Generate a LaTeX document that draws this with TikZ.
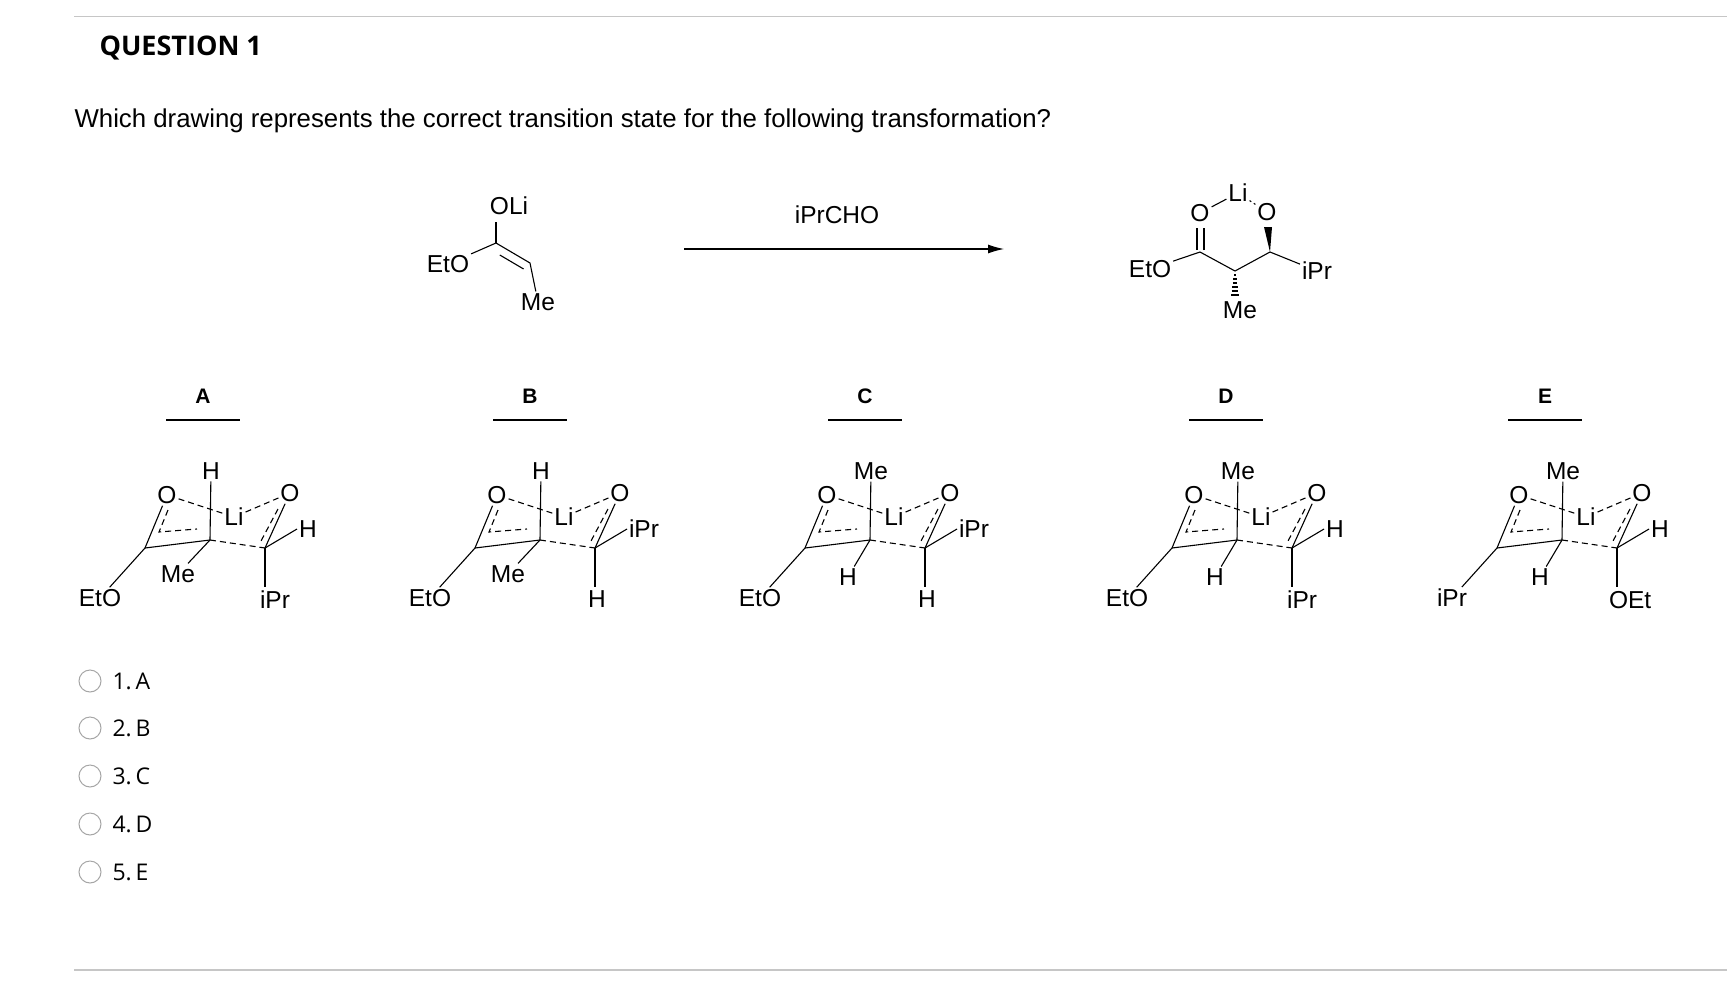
\documentclass[tikz,border=0pt]{standalone}
\usepackage{fontspec}
\usetikzlibrary{calc,arrows.meta}
\setmainfont{Liberation Sans}
\newfontfamily\osans{Open Sans}
\begin{document}
\begin{tikzpicture}[x=1pt,y=-1pt,line width=1.1pt,
  lab/.style={font=\fontsize{24.5}{24.5}\selectfont,inner sep=1.5pt},
  bond/.style={line width=1.1pt},
  dbond/.style={line width=1.1pt,dash pattern=on 6pt off 4pt},
  rule/.style={draw=gray!45,line width=1.2pt},
  opt/.style={font=\osans\fontsize{23}{23}\selectfont,anchor=west,inner sep=0pt},
  radio/.style={draw=gray!70,line width=1pt,circle,minimum size=22pt,inner sep=0pt}]
\useasboundingbox (0,0) rectangle (1727,996);
\draw[rule] (74,16.5) -- (1727,16.5);
\draw[rule] (74,970) -- (1727,970);
\node[anchor=west,inner sep=0pt,font=\osans\bfseries\fontsize{27}{27}\selectfont] (title) at (99,48) {QUESTION 1};
\node[anchor=west,inner sep=0pt,font=\fontsize{25.8}{25.8}\selectfont] (q) at (74,121) {Which drawing represents the correct transition state for the following transformation?};
% reactant
\node[lab] (rOLi) at (509,206) {OLi};
\node[lab] (rEtO) at (448,264) {EtO};
\node[lab] (rMe) at (538,302) {Me};
\coordinate (rC1) at (496,243);
\coordinate (rC2) at (530,263);
\draw[bond] (rC1) -- (496,222);
\draw[bond] (rEtO) -- (rC1) -- (rC2) -- (rMe);
\draw[bond] ($(rC1)!0.2!(rC2)+(-3,8)$) -- ($(rC1)!0.9!(rC2)+(-3,8)$);
% arrow
\node[lab] (reag) at (837,215) {iPrCHO};
\coordinate (a1) at (684,249);
\coordinate (a2) at (1004,249);
\draw[line width=1.1pt,-{Latex[length=16pt,width=9pt]}] (a1) -- (a2);
% product
\node[lab] (pO1) at (1200,213) {O};
\node[lab] (pLi) at (1238,193) {Li};
\node[lab] (pO2) at (1267,212) {O};
\node[lab] (pEtO) at (1150,269) {EtO};
\node[lab] (piPr) at (1317,271) {iPr};
\node[lab] (pMe) at (1240,310) {Me};
\coordinate (pC1) at (1200,252);
\coordinate (pC2) at (1235,271);
\coordinate (pC3) at (1270,252);
\draw[bond] (pEtO) -- (pC1) -- (pC2) -- (pC3) -- (piPr);
\draw[bond] (1197,250) -- (1197,228);
\draw[bond] (1204,250) -- (1204,228);
\draw[bond] (pO1) -- (pLi);
\draw[bond,dash pattern=on 2pt off 3pt] (pLi) -- (pO2);
\fill (pC3) -- (1264,227) -- (1272,227) -- cycle;
\foreach \k in {0,...,5}{\draw[line width=1.1pt] ($(pC2)+(-1-0.6*\k,4+4*\k)$) -- ($(pC2)+(1+0.6*\k,4+4*\k)$);}
% headings
\foreach \n/\x in {A/203,B/530,C/865,D/1226,E/1545}{
  \node[font=\bfseries\fontsize{21}{21}\selectfont,inner sep=0pt] (h\n) at (\x,396) {\n};
  \draw[line width=1.2pt] (\x-37,420) -- (\x+37,420);
}
% transition states
\newcommand\TSdraw[7]{%
\begin{scope}[xshift=#2pt]
\node[lab] (#1O1) at (167,495) {O};
\node[lab] (#1Li) at (234,517) {Li};
\node[lab] (#1O2) at (290,493) {O};
\coordinate (#1Ce) at (145,548);
\coordinate (#1Ca) at (210,540);
\coordinate (#1Cc) at (265,548);
\node[lab] (#1top) at (211,471) {#3};
\node[lab] (#1ll) at #4;
\node[lab,anchor=west] (#1ur) at (297,529) {#5};
\node[lab,anchor=north west] (#1bt) at (#7) {#6};
\draw[bond] (#1Ce) -- (#1O1);
\draw[bond] (#1Ce) -- (#1Ca);
\draw[bond] (#1Ca) -- (#1top);
\draw[bond] (#1Ca) -- (#1ll);
\draw[bond] (#1O2) -- (#1Cc);
\draw[bond] (#1Cc) -- (#1ur.west);
\draw[bond] (#1Cc) -- (265,587);
\draw[dbond] (168,510) -- (159,532) -- (197,529);
\draw[dbond] (278,509) -- (261,541);
\draw[dbond] (#1Ca) -- (#1Cc);
\draw[dbond] (#1O1) -- (#1Li);
\draw[dbond] (#1Li) -- (#1O2);
\end{scope}}
\newcommand\LeftSub[3]{\begin{scope}[xshift=#2pt]\node[lab] (#1lf) at (100,598) {#3};\draw[bond] (145,548) -- (#1lf);\end{scope}}
\TSdraw{A}{0}{H}{(178,574) {Me}}{H}{iPr}{258,589}
\LeftSub{A}{0}{EtO}
\TSdraw{B}{330}{H}{(178,574) {Me}}{iPr}{H}{256,589}
\LeftSub{B}{330}{EtO}
\TSdraw{C}{660}{Me}{(188,577) {H}}{iPr}{H}{256,589}
\LeftSub{C}{660}{EtO}
\TSdraw{D}{1027}{Me}{(188,577) {H}}{H}{iPr}{258,589}
\LeftSub{D}{1027}{EtO}
\TSdraw{E}{1352}{Me}{(188,577) {H}}{H}{OEt}{255,589}
\LeftSub{E}{1352}{iPr}
% options
\foreach \i/\t/\y in {1/1.\,A/681,2/2.\,B/728,3/3.\,C/776,4/4.\,D/824,5/5.\,E/872}{
  \node[radio] (r\i) at (90,\y) {};
  \node[opt] (o\i) at (112,\y) {\t};
}
\end{tikzpicture}
\end{document}
